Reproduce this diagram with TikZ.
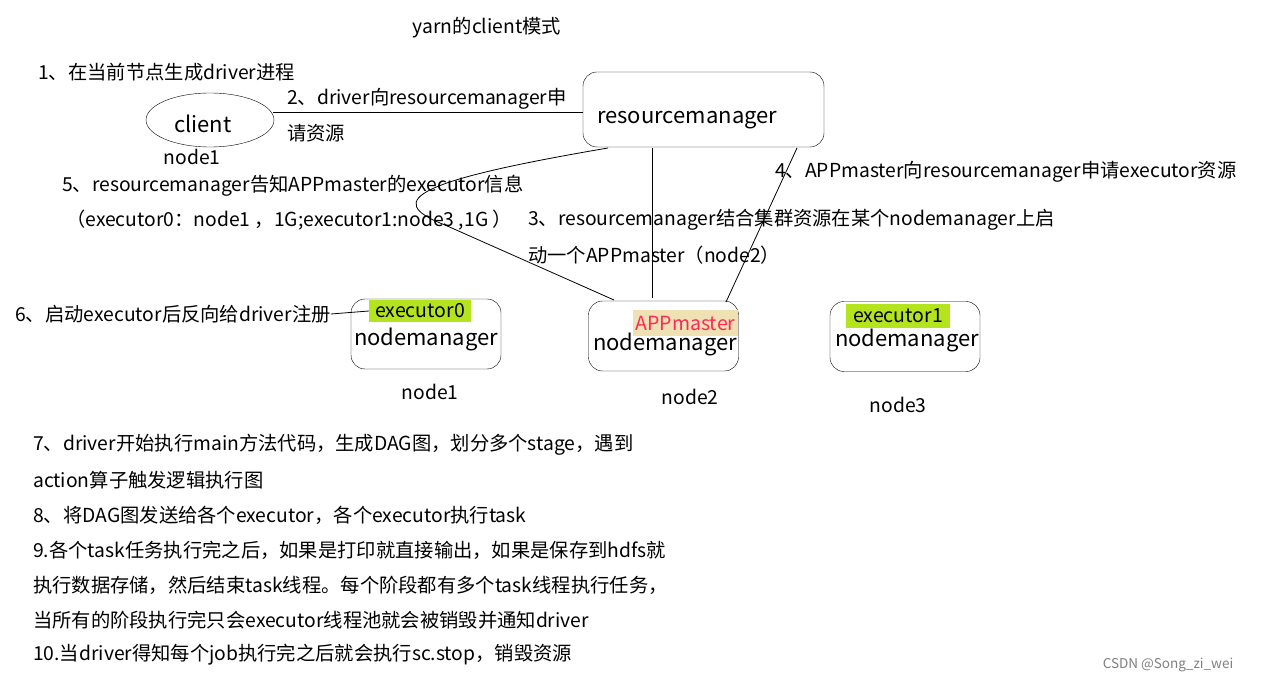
\documentclass[tikz,border=0pt]{standalone}
\usepackage{fontspec}
\usetikzlibrary{shapes.geometric}
\setmainfont{Noto Sans CJK SC}
\begin{document}
\begin{tikzpicture}[x=1pt,y=-1pt,
  txt/.style={anchor=west,inner sep=0pt,font=\fontsize{19.3}{21}\selectfont},
  big/.style={inner sep=0pt,font=\fontsize{22}{24}\selectfont},
  hl/.style={inner sep=0pt,font=\fontsize{19.5}{21}\selectfont},
  nm/.style={draw,rounded corners=14pt,minimum width=150pt,minimum height=70pt},
  ln/.style={draw,line width=0.8pt}]
\useasboundingbox[fill=white] (0,0) rectangle (1261,684);
\node[txt,anchor=center] (title) at (487,28) {yarn的client模式};
\node[txt] (t1) at (38,72) {1、在当前节点生成driver进程};
\node[draw,ellipse,minimum width=128pt,minimum height=54pt,inner sep=0pt] (client) at (210,120) {};
\node[big] (clienttxt) at (203,124) {client};
\node[txt,anchor=center] (n1a) at (192,157) {node1};
\node[draw,rounded corners=14pt,minimum width=241pt,minimum height=75pt] (rm) at (703.5,109.5) {};
\node[big,anchor=west] (rmtxt) at (597,120) {resourcemanager};
\coordinate (cl) at (273,112);
\draw[ln] (cl) -- (rm.west |- cl);
\node[txt] (t2a) at (287,99) {2、driver向resourcemanager申};
\node[txt] (t2b) at (287,133) {请资源};
\node[txt] (t5a) at (62,186) {5、resourcemanager告知APPmaster的executor信息};
\node[txt] (t5b) at (66,220) {（executor0：node1 ，1G;executor1:node3 ,1G ）};
\node[txt] (t3a) at (528,220) {3、resourcemanager结合集群资源在某个nodemanager上启};
\node[txt] (t3b) at (528,255) {动一个APPmaster（node2）};
\node[txt] (t4) at (775,172) {4、APPmaster向resourcemanager申请executor资源};
\node[txt] (t6) at (15,314) {6、启动executor后反向给driver注册};
\node[nm] (nm1) at (426,334) {};
\node[nm] (nm2) at (663.5,336) {};
\node[nm] (nm3) at (905,336.5) {};
\node[big] (nm1t) at (426,339) {nodemanager};
\node[big] (nm2t) at (665,344) {nodemanager};
\node[big] (nm3t) at (907,340) {nodemanager};
\node[hl,fill={rgb,255:red,180;green,228;blue,30},minimum width=102pt,minimum height=22pt] (ex0) at (420,311) {executor0};
\node[hl,fill={rgb,255:red,180;green,228;blue,30},minimum width=104pt,minimum height=24pt] (ex1) at (898,316) {executor1};
\node[hl,fill={rgb,255:red,240;green,225;blue,180},text={rgb,255:red,255;green,40;blue,90},minimum width=105pt,minimum height=26pt] (am) at (685.5,323) {APPmaster};
\draw[ln] (t6.east) -- (ex0.west);
\node[txt,anchor=center] (n1) at (430,392) {node1};
\node[txt,anchor=center] (n2) at (690,397) {node2};
\node[txt,anchor=center] (n3) at (898,405) {node3};
\coordinate (a1) at (652,148);
\coordinate (a2) at (652,298);
\draw[ln] (a1) -- (a2);
\coordinate (b1) at (797,148);
\coordinate (b2) at (726,302);
\draw[ln] (b1) -- (b2);
\coordinate (c1) at (608,148);
\coordinate (c2) at (614,300);
\draw[ln] (c1) .. controls (420,180) and (380,200) .. (445,225) -- (c2);
\node[txt] (b7) at (33,445) {7、driver开始执行main方法代码，生成DAG图，划分多个stage，遇到};
\node[txt] (b7b) at (33,480) {action算子触发逻辑执行图};
\node[txt] (b8) at (33,515) {8、将DAG图发送给各个executor，各个executor执行task};
\node[txt] (b9) at (33,550) {9.各个task任务执行完之后，如果是打印就直接输出，如果是保存到hdfs就};
\node[txt] (b9b) at (33,585) {执行数据存储，然后结束task线程。每个阶段都有多个task线程执行任务，};
\node[txt] (b9c) at (33,620) {当所有的阶段执行完只会executor线程池就会被销毁并通知driver};
\node[txt] (b10) at (33,655) {10.当driver得知每个job执行完之后就会执行sc.stop，销毁资源};
\node[inner sep=0pt,text=gray,font=\fontsize{13.5}{15}\selectfont] (csdn) at (1168,665) {CSDN @Song\_zi\_wei};
\end{tikzpicture}
\end{document}
